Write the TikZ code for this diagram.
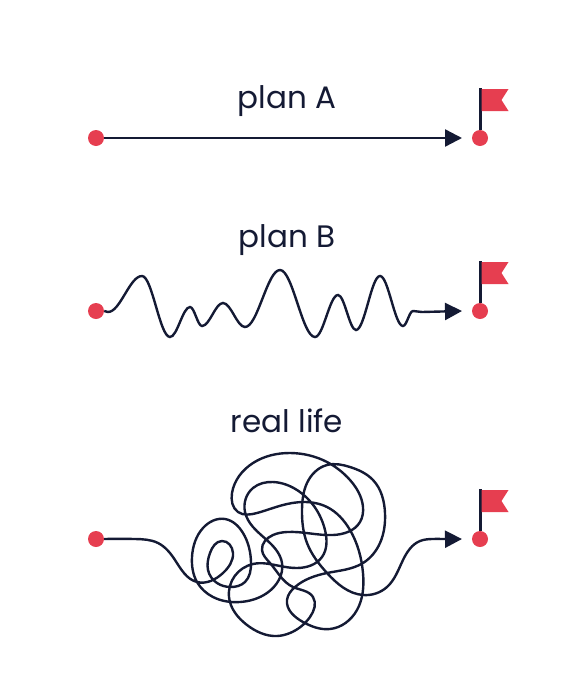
\documentclass[tikz,border=0pt]{standalone}
\usepackage{fontspec}
\setmainfont{Poppins}
\usepackage{tikz}
\usetikzlibrary{positioning,arrows.meta,hobby}
\definecolor{planred}{RGB}{230,62,80}
\definecolor{planink}{RGB}{20,26,52}
\tikzset{
  dot/.style={circle,fill=planred,inner sep=0pt,minimum size=16pt},
  planlabel/.style={text=planink,font=\fontsize{31}{35}\selectfont,inner sep=0pt,anchor=base},
  route/.style={planink,line width=2.4pt,-{Triangle[length=17pt,width=17pt]}},
  pole/.style={planink,line width=3pt}
}
\begin{document}
\begin{tikzpicture}[x=1pt,y=-1pt]
\useasboundingbox (0,0) rectangle (576,691);
% Start and finish dots, one row per plan
\foreach \name/\y in {A/138,B/311,C/539} {
  \node[dot] (start\name) at (96,\y) {};
  \node[dot] (goal\name) at (480,\y) {};
  \coordinate (tip\name) at (462,\y);
  % Flag on its pole
  \coordinate (top\name) at (480,\y-50);
  \draw[pole] (goal\name.north) -- (top\name);
  \fill[planred] (top\name) ++(1.5,1) -- ++(27,0) -- ++(-7,11) -- ++(7,11) -- ++(-27,0) -- cycle;
}
\node[planlabel] (labelA) at (287,108) {plan A};
\node[planlabel] (labelB) at (287,247) {plan B};
\node[planlabel] (labelC) at (287,432) {real life};
% Straight plan
\draw[route] (startA) -- (tipA);
% Wavy plan
\draw[route] (startB.east) -- (108,312) cos (125,294) sin (142,276) cos (156,306.5) sin (170,337)
  cos (180,322) sin (190,307) cos (196,316.5) sin (202,326) cos (212.5,314.5) sin (223,303)
  cos (234,315) sin (245,327) cos (262.5,298.5) sin (280,270) cos (297.5,303.5) sin (315,337)
  cos (326.5,316) sin (338,295) cos (347,312.5) sin (356,330) cos (368,303) sin (380,276)
  cos (391.5,301) sin (403,326) cos (408,318.5) sin (413,311) cos (417.5,311.5) sin (422,312)
  -- (tipB);
% Tangled real life
\draw[route,use Hobby shortcut] (startC.east) .. (135,539) .. (158,543) .. (175,560) .. (197,582)
  .. (223,573) .. (233,553) .. (222,541) .. (210,553) .. (208,570) .. (217,583) .. (230,587) .. (245,582) .. (251,563)
  .. (243,533) .. (225,519) .. (203,528) .. (192,557) .. (197,582) .. (213,597) .. (240,602) .. (267,593) .. (282,563)
  .. (270,543) .. (253,527) .. (245,512) .. (253,488) .. (273,482) .. (297,490) .. (325,530) .. (322,557) .. (297,568)
  .. (280,566) .. (253,564) .. (229,597) .. (247,625) .. (277,636) .. (290,633) .. (310,617) .. (313,597) .. (293,587)
  .. (270,563) .. (262,550) .. (273,535) .. (287,532) .. (333,535) .. (360,522) .. (363,507) .. (350,480) .. (327,462)
  .. (290,453) .. (253,463) .. (232,493) .. (238,512) .. (257,513) .. (283,505) .. (303,502) .. (327,507) .. (350,530)
  .. (363,573) .. (357,610) .. (330,629) .. (303,622) .. (287,600) .. (295,587) .. (327,573) .. (363,563) .. (380,543)
  .. (385,513) .. (373,480) .. (350,467) .. (327,465) .. (307,483) .. (302,510) .. (307,543) .. (327,573) .. (363,595)
  .. (387,587) .. (403,560) .. (420,541) .. (432,539) .. (445,539) .. (tipC);
\end{tikzpicture}
\end{document}
